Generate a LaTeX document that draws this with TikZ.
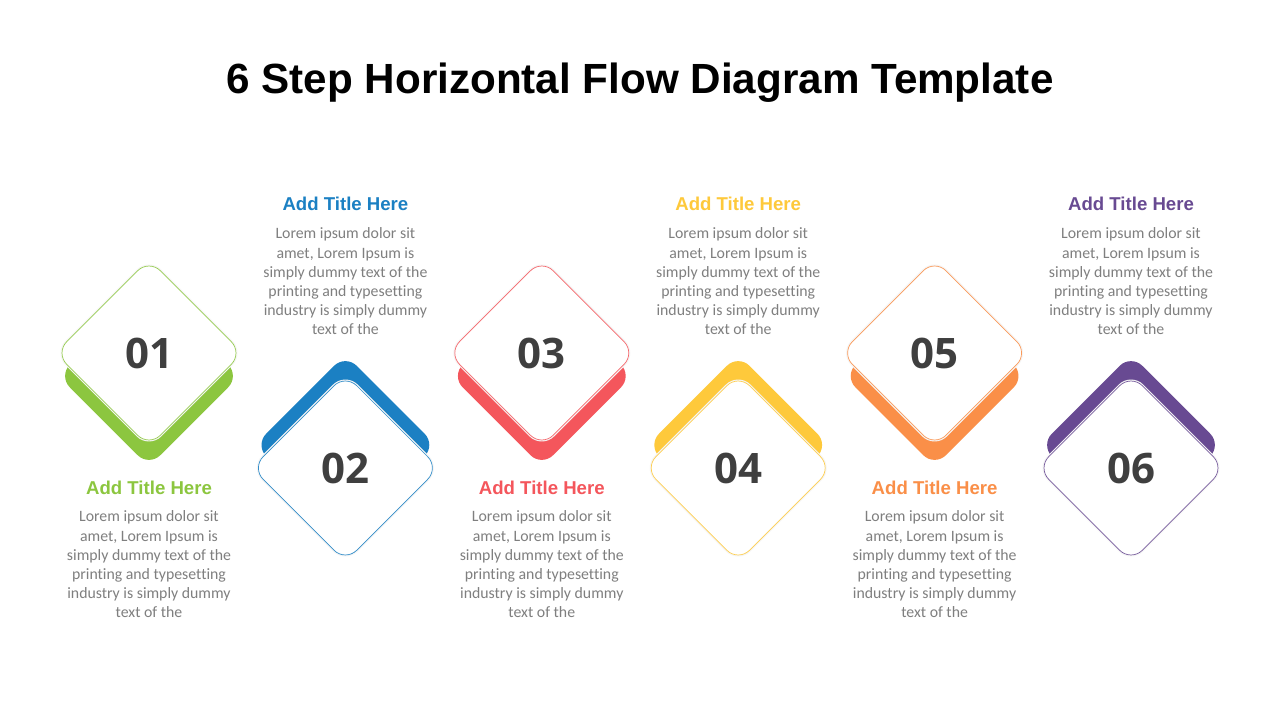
\documentclass[tikz,border=0pt]{standalone}
\usepackage{fontspec}
\setmainfont{Liberation Sans}
\newfontfamily\bodyfont{Carlito}[Ligatures=NoCommon]
\newfontfamily\numfont{Open Sans}
\usetikzlibrary{shapes.geometric}
\definecolor{cgreen}{HTML}{8CC63F}
\definecolor{cblue}{HTML}{1B80C3}
\definecolor{cred}{HTML}{F4565C}
\definecolor{cyellow}{HTML}{FEC93B}
\definecolor{corange}{HTML}{FA8F48}
\definecolor{cpurple}{HTML}{684A92}
\definecolor{txtgray}{HTML}{7F7F7F}
\definecolor{numgray}{HTML}{3F3F3F}
\tikzset{
  whited/.style={diamond, aspect=1, minimum width=187.2pt, minimum height=187.2pt,
    inner sep=0pt, outer sep=0pt, rounded corners=16pt, fill=white, draw=#1!90,
    line width=0.7pt, font=\numfont\bfseries\fontsize{42}{42}\selectfont, text=numgray},
  halod/.style={diamond, aspect=1, minimum width=187.2pt, minimum height=187.2pt,
    inner sep=0pt, outer sep=0pt, rounded corners=16pt, draw=black!4, line width=3pt},
  colord/.style={diamond, aspect=1, minimum width=181pt, minimum height=181pt,
    inner sep=0pt, outer sep=0pt, rounded corners=16pt, fill=#1, draw=none},
  steptitle/.style={anchor=base, inner sep=0pt, font=\bfseries\fontsize{18.6}{22}\selectfont, text=#1},
  bodytext/.style={anchor=north, align=center, inner sep=0pt,
    font=\bodyfont\fontsize{15.8}{19.2}\selectfont, text=txtgray},
  maintitle/.style={anchor=base, inner sep=0pt, font=\bfseries\fontsize{42.2}{48}\selectfont, text=black}
}
\newcommand{\lorembody}{\strut Lorem ipsum dolor sit\\amet, Lorem Ipsum is\\simply dummy text of the\\printing and typesetting\\industry is simply dummy\\text of the}
\begin{document}
\begin{tikzpicture}[x=1pt,y=-1pt]
\useasboundingbox (0,0) rectangle (1280,720);
\fill[white] (0,0) rectangle (1280,720);
\node[maintitle] (title) at (640,93) {6 Step Horizontal Flow Diagram Template};
% odd steps: colour below
\foreach \i/\x/\col in {1/149/cgreen, 3/541.8/cred, 5/934.6/corange}{
  \node[colord=\col] (c\i) at (\x,376) {};
  \node[halod] (h\i) at (\x,353) {};
  \node[whited=\col] (d\i) at (\x,353) {0\i};
  \node[steptitle=\col] (t\i) at (\x,494.7) {Add Title Here};
  \node[bodytext] (b\i) at (\x,508.3) {\lorembody};
}
% even steps: colour above
\foreach \i/\x/\col in {2/345.4/cblue, 4/738.2/cyellow, 6/1131/cpurple}{
  \node[colord=\col] (c\i) at (\x,445) {};
  \node[halod] (h\i) at (\x,468) {};
  \node[whited=\col] (d\i) at (\x,468) {0\i};
  \node[steptitle=\col] (t\i) at (\x,210.7) {Add Title Here};
  \node[bodytext] (b\i) at (\x,225.3) {\lorembody};
}
\end{tikzpicture}
\end{document}
